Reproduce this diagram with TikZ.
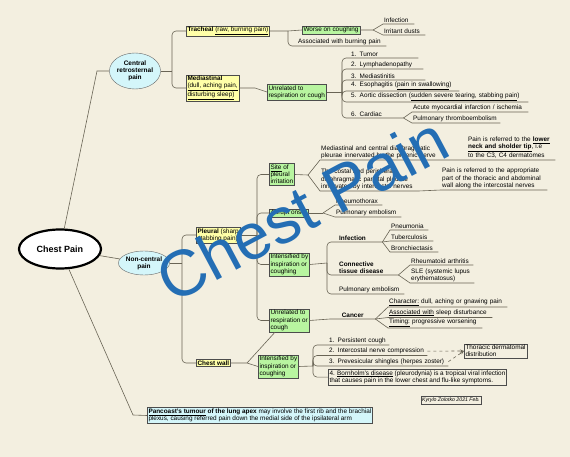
\documentclass[tikz,border=0pt]{standalone}
\usepackage{fontspec}
\setmainfont{Liberation Sans}
\usepackage{xcolor}
\usepackage{tikz}
\usetikzlibrary{arrows.meta,shapes.geometric}
\definecolor{bgc}{RGB}{243,239,224}
\definecolor{boxy}{RGB}{255,255,168}
\definecolor{boxg}{RGB}{184,245,160}
\definecolor{boxc}{RGB}{212,246,250}
\definecolor{lnc}{RGB}{105,100,85}
\definecolor{wmc}{RGB}{36,110,180}
\newcommand\mmfont{\fontsize{6.4}{7.2}\selectfont}
\tikzset{
  ybox/.style={draw=black!70, fill=boxy, inner sep=1.3pt, align=left, font=\mmfont},
  gbox/.style={ybox, fill=boxg},
  cbox/.style={ybox, fill=boxc},
  pbox/.style={ybox, fill=none},
  cov/.style={draw=black!60, fill=boxc, ellipse, inner sep=0pt, align=center,
              minimum width=51pt, minimum height=36pt,
              font=\bfseries\fontsize{6.5}{7.2}\selectfont},
  itm/.style={inner xsep=1pt, inner ysep=1.2pt, anchor=south west, align=left,
              text width=#1pt, font=\mmfont},
  ln/.style={draw=lnc, line width=0.6pt},
  dsh/.style={ln, dashed, -{Stealth[length=4pt]}},
  wm/.style={text=wmc, font=\fontsize{65}{65}\selectfont, rotate=28},
}
\begin{document}
\begin{tikzpicture}[x=1pt,y=-1pt]
    \useasboundingbox (0,0) rectangle (570,457);
    \fill[bgc] (0,0) rectangle (570,457);
    \node[ellipse, draw, fill=white, line width=2.2pt, minimum width=82pt, minimum height=39pt,
          font=\bfseries\fontsize{9}{10}\selectfont] (chest) at (60,249) {Chest Pain};
    \node[cov] (cent) at (135,71) {Central\\retrosternal\\pain};
    \node[cov, minimum width=50pt, minimum height=24pt] (noncent) at (144,263) {Non-central\\pain};
    \coordinate (fct) at (97,71);
    \coordinate (fpc) at (133,415);
    \draw[ln] (chest) -- (fct) -- (cent.west);
    \draw[ln] (chest) -- (noncent);
    \node[cbox, anchor=west] (panc) at (147,415.5) {\underline{\textbf{Pancoast's tumour}} \textbf{of the lung apex} may involve the first rib and the brachial\\plexus, causing referred pain down the medial side of the ipsilateral arm};
    \draw[ln] (chest) -- (fpc) -- (panc.west);

    \node[ybox, anchor=west] (trach) at (186,31) {\textbf{Tracheal} \underline{(raw, burning pain)}};
    \node[ybox, anchor=west, font=\fontsize{6.4}{7}\selectfont] (medi) at (186,88) {\textbf{Mediastinal}\\\underline{(dull, aching pain,}\\\underline{disturbing sleep)}};
    \coordinate (fce) at (172,71);
    \draw[ln] (cent.east) -- (fce);
    \draw[ln, rounded corners=4pt] (fce) |- (trach.west);
    \draw[ln, rounded corners=4pt] (fce) |- (medi.west);

    \node[gbox, anchor=west] (worse) at (302,30) {Worse on coughing};
    \node[itm=87] (assoc) at (297,46) {Associated with burning pain};
    \coordinate (ftr) at (288,31);
    \draw[ln] (trach.east) -- (ftr) -- (worse.west);
    \draw[ln, rounded corners=4pt] (ftr) |- (assoc.south west) -- (assoc.south east);
    \node[itm=29] (infec) at (383,24) {Infection};
    \node[itm=40] (dusts) at (383,35) {Irritant dusts};
    \coordinate (fwo) at (373,30);
    \draw[ln] (worse.east) -- (fwo) -- (infec.south west) -- (infec.south east);
    \draw[ln] (fwo) -- (dusts.south west) -- (dusts.south east);

    \node[gbox, anchor=west] (unrm) at (267,92) {Unrelated to\\respiration or cough};
    \coordinate (fme) at (255,88);
    \draw[ln] (medi.east) -- (fme) -- (unrm.west);
    \node[itm=66] (tumor) at (350,58) {1. Tumor};
    \node[itm=71] (lymph) at (350,69) {2. Lymphadenopathy};
    \node[itm=73] (medit) at (350,80) {3. Mediastinitis};
    \node[itm=107] (esoph) at (350,91) {4. Esophagitis (\underline{pain in swallowing})};
    \node[itm=176] (aorta) at (350,102) {5. Aortic dissection (\underline{sudden severe tearing, stabbing pain})};
    \node[itm=51] (card) at (350,118) {6. Cardiac};
    \node[itm=114] (ami) at (412,112) {Acute myocardial infarction / ischemia};
    \node[itm=86] (pte) at (412,123) {Pulmonary thromboembolism};
    \coordinate (fum) at (342,92);
    \draw[ln] (unrm.east) -- (fum);
    \foreach \n in {tumor,lymph,medit,esoph,aorta,card}
      \draw[ln, rounded corners=4pt] (fum) |- (\n.south west) -- (\n.south east);
    \draw[ln] (card.south east) -- (ami.south west) -- (ami.south east);
    \draw[ln] (card.south east) -- (pte.south west) -- (pte.south east);

    \node[ybox, anchor=west] (pleur) at (196,235) {\textbf{Pleural} (sharp\\stabbing pain)};
    \node[ybox, anchor=west] (chwall) at (196,363) {\textbf{Chest wall}};
    \coordinate (fnc) at (182,263);
    \draw[ln] (noncent.east) -- (fnc);
    \draw[ln, rounded corners=4pt] (fnc) |- (pleur.west);
    \draw[ln, rounded corners=4pt] (fnc) |- (chwall.west);

    \node[gbox, anchor=west] (site) at (269,174.5) {\underline{Site} of\\pleural\\irritation};
    \node[gbox, anchor=west] (abrupt) at (269,213) {Abrupt onset};
    \node[gbox, anchor=west] (intp) at (269,264.5) {Intensified by\\inspiration or\\coughing};
    \node[gbox, anchor=west] (unrp) at (269,320.5) {Unrelated to\\respiration or\\cough};
    \node[gbox, anchor=west] (intc) at (258,366.5) {Intensified by\\inspiration or\\coughing};
    \coordinate (fpl) at (257,235);
    \draw[ln] (pleur.east) -- (fpl);
    \foreach \n in {site,abrupt,intp,unrp}
      \draw[ln, rounded corners=4pt] (fpl) |- (\n.west);
    \coordinate (fcw) at (247,363);
    \draw[ln] (chwall.east) -- (fcw) -- (intc.west);
    \draw[ln] (fcw) -- ([xshift=6pt]unrp.south west);

    \node[itm=118] (phren) at (320,160) {Mediastinal and central diaphragmatic\\pleurae innervated by the phrenic nerve};
    \node[itm=86] (cfour) at (467,160) {Pain is referred to the \underline{\textbf{lower}}\\\underline{\textbf{neck and sholder tip}}, i.e\\to the C3, C4 dermatomes};
    \node[itm=96] (costal) at (320,191) {The costal and peripheral\\diaphragmatic parietal pleurae\\innervated by intercostal nerves};
    \node[itm=104] (wall) at (441,190) {Pain is referred to the appropriate\\part of the thoracic and abdominal\\wall along the intercostal nerves};
    \coordinate (fsi) at (308,175);
    \draw[ln] (site.east) -- (fsi);
    \draw[ln] (fsi) -- (phren.south west) -- (phren.south east) -- (cfour.south west) -- (cfour.south east);
    \draw[ln] (fsi) -- (costal.south west) -- (costal.south east) -- (wall.south west) -- (wall.south east);

    \node[itm=45] (pnx) at (335,205) {Pneumothorax};
    \node[itm=64] (pemb) at (335,217) {Pulmonary embolism};
    \coordinate (fab) at (323,213);
    \draw[ln] (abrupt.east) -- (fab);
    \draw[ln] (fab) -- (pnx.south west) -- (pnx.south east);
    \draw[ln] (fab) -- (pemb.south west) -- (pemb.south east);

    \node[itm=45] (infc) at (335,242) {\hspace{3pt}\textbf{Infection}};
    \node[itm=61] (ctd) at (335,275) {\hspace{3pt}\textbf{Connective}\\\hspace{3pt}\textbf{tissue disease}};
    \node[itm=67] (pemb2) at (335,294) {\hspace{3pt}Pulmonary embolism};
    \coordinate (fip) at (327,263);
    \draw[ln] (intp.east) -- (fip);
    \foreach \n in {infc,ctd,pemb2}
      \draw[ln, rounded corners=4pt] (fip) |- (\n.south west) -- (\n.south east);
    \node[itm=36] (pneu) at (390,230) {Pneumonia};
    \node[itm=41] (tb) at (390,241) {Tuberculosis};
    \node[itm=46] (bron) at (390,252) {Bronchiectasis};
    \foreach \n in {pneu,tb,bron}
      \draw[ln] (infc.south east) -- (\n.south west) -- (\n.south east);
    \node[itm=61] (ra) at (410,265) {Rheumatoid arthritis};
    \node[itm=62] (sle) at (410,283) {SLE (systemic lupus\\erythematosus)};
    \draw[ln] (ctd.south east) -- (ra.south west) -- (ra.south east);
    \draw[ln] (ctd.south east) -- (sle.south west) -- (sle.south east);

    \node[itm=43, align=center] (cancer) at (330,319) {\textbf{Cancer}};
    \draw[ln] (unrp.east) -- (cancer.south west) -- (cancer.south east);
    \node[itm=117] (chr) at (388,307) {\underline{Character:} dull, aching or gnawing pain};
    \node[itm=102] (sleep) at (388,317.5) {\underline{Associated with} sleep disturbance};
    \node[itm=92] (timing) at (388,328) {\underline{Timing:} progressive worsening};
    \foreach \n in {chr,sleep,timing}
      \draw[ln] (cancer.south east) -- (\n.south west) -- (\n.south east);

    \node[itm=59] (pcough) at (328,345) {1. Persistent cough};
    \node[itm=97] (icn) at (328,355.5) {2. Intercostal nerve compression};
    \node[itm=118] (shing) at (328,366) {3. Prevesicular shingles (herpes zoster)};
    \node[pbox, anchor=north west] (born) at (328,369) {4. \underline{Bornholm's disease} (pleurodynia) is a tropical viral infection\\that causes pain in the lower chest and flu-like symptoms.};
    \node[pbox, anchor=west] (therm) at (464,351) {Thoracic dermatomal\\distribution};
    \coordinate (fic) at (313,366);
    \draw[ln] (intc.east) -- (fic);
    \foreach \n in {pcough,icn,shing}
      \draw[ln, rounded corners=4pt] (fic) |- (\n.south west) -- (\n.south east);
    \draw[ln, rounded corners=4pt] (fic) |- (born.west);
    \draw[dsh] (icn.east) -- (therm.west);
    \draw[dsh] (shing.east) -- (therm.west);

    \node[pbox, font=\itshape\fontsize{5.2}{6}\selectfont] (credit) at (451,400) {Kyrylo Zolotko 2021 Feb.};

    \node[wm] (wmark) at (302,209) {Chest Pain};
\end{tikzpicture}
\end{document}
